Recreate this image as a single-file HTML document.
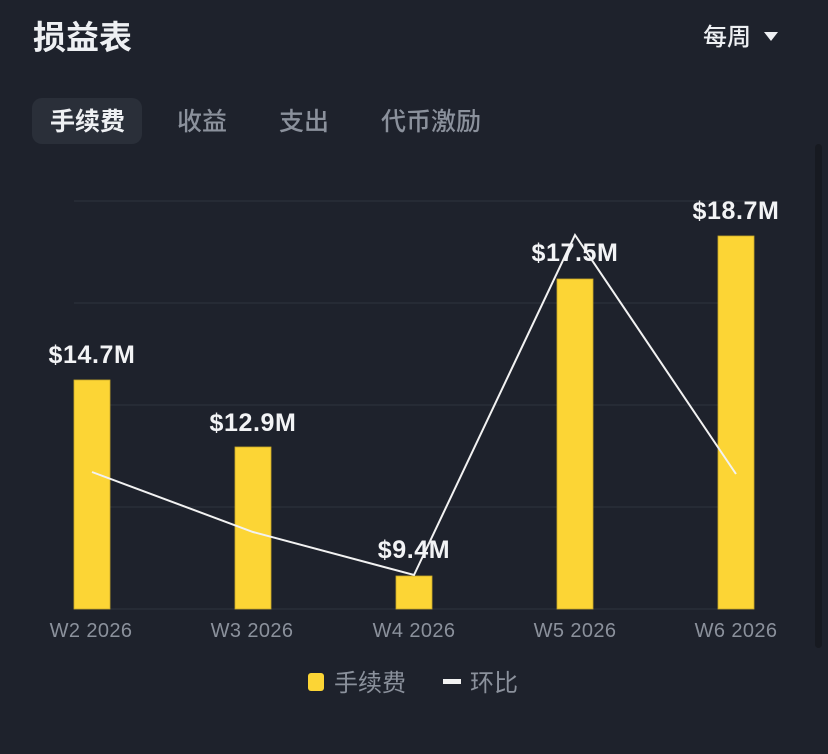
<!DOCTYPE html>
<html>
<head>
<meta charset="utf-8">
<style>
  html, body { margin: 0; padding: 0; background: #1e222c; }
  body { width: 828px; height: 754px; overflow: hidden; }
  svg { display: block; }
  .cjk { font-family: "Liberation Sans", "Noto Sans CJK SC", sans-serif; }
  .lat { font-family: "Liberation Sans", "DejaVu Sans", sans-serif; }
</style>
</head>
<body>
<svg width="828" height="754" viewBox="0 0 828 754" xmlns="http://www.w3.org/2000/svg">
  <rect x="0" y="0" width="828" height="754" fill="#1e222c"/>

  <!-- Header -->
  <text x="33" y="49" class="cjk" font-size="33" font-weight="700" fill="#eef0f3">损益表</text>
  <text x="703" y="45" class="cjk" font-size="24" font-weight="500" fill="#eef0f3">每周</text>
  <polygon points="764,32 778,32 771,41" fill="#eef0f3"/>

  <!-- Tabs -->
  <rect x="32" y="98" width="110" height="46" rx="10" ry="10" fill="#2a2f39"/>
  <text x="50" y="130" class="cjk" font-size="25" font-weight="700" fill="#eef0f3">手续费</text>
  <text x="177" y="130" class="cjk" font-size="25" font-weight="500" fill="#8b919c">收益</text>
  <text x="279" y="130" class="cjk" font-size="25" font-weight="500" fill="#8b919c">支出</text>
  <text x="381" y="130" class="cjk" font-size="25" font-weight="500" fill="#8b919c">代币激励</text>

  <!-- Scrollbar -->
  <rect x="815" y="144" width="7" height="504" rx="3.5" fill="#171a21"/>

  <!-- Gridlines -->
  <g stroke="#2c313b" stroke-width="1.2">
    <line x1="74" y1="201" x2="754" y2="201"/>
    <line x1="74" y1="303" x2="754" y2="303"/>
    <line x1="74" y1="405" x2="754" y2="405"/>
    <line x1="74" y1="507" x2="754" y2="507"/>
    <line x1="74" y1="609" x2="754" y2="609"/>
  </g>

  <!-- Bars -->
  <g fill="#fcd535" stroke="#c9a82a" stroke-width="0.8">
    <rect x="74" y="380" width="36" height="229"/>
    <rect x="235" y="447" width="36" height="162"/>
    <rect x="396" y="576" width="36" height="33"/>
    <rect x="557" y="279" width="36" height="330"/>
    <rect x="718" y="236" width="36" height="373"/>
  </g>

  <!-- Line series -->
  <polyline points="92,472 253,532 414,575 575,235 736,474" fill="none" stroke="#f2f2f2" stroke-width="2" stroke-linejoin="miter"/>

  <!-- Value labels -->
  <g class="lat" font-size="25" font-weight="700" fill="#f2f3f5" text-anchor="middle" letter-spacing="0.6">
    <text x="92" y="363">$14.7M</text>
    <text x="253" y="431">$12.9M</text>
    <text x="414" y="558">$9.4M</text>
    <text x="575" y="261">$17.5M</text>
    <text x="736" y="219">$18.7M</text>
  </g>

  <!-- X axis labels -->
  <g class="lat" font-size="20" fill="#8b919c" text-anchor="middle" letter-spacing="0.4">
    <text x="91" y="637">W2 2026</text>
    <text x="252" y="637">W3 2026</text>
    <text x="414" y="637">W4 2026</text>
    <text x="575" y="637">W5 2026</text>
    <text x="736" y="637">W6 2026</text>
  </g>

  <!-- Legend -->
  <rect x="308" y="673" width="16" height="18" rx="3" ry="3" fill="#fcd535"/>
  <text x="334" y="691" class="cjk" font-size="24" fill="#8b919c">手续费</text>
  <rect x="443" y="679" width="18" height="5" fill="#f2f2f2"/>
  <text x="470" y="691" class="cjk" font-size="24" fill="#8b919c">环比</text>
</svg>
</body>
</html>
